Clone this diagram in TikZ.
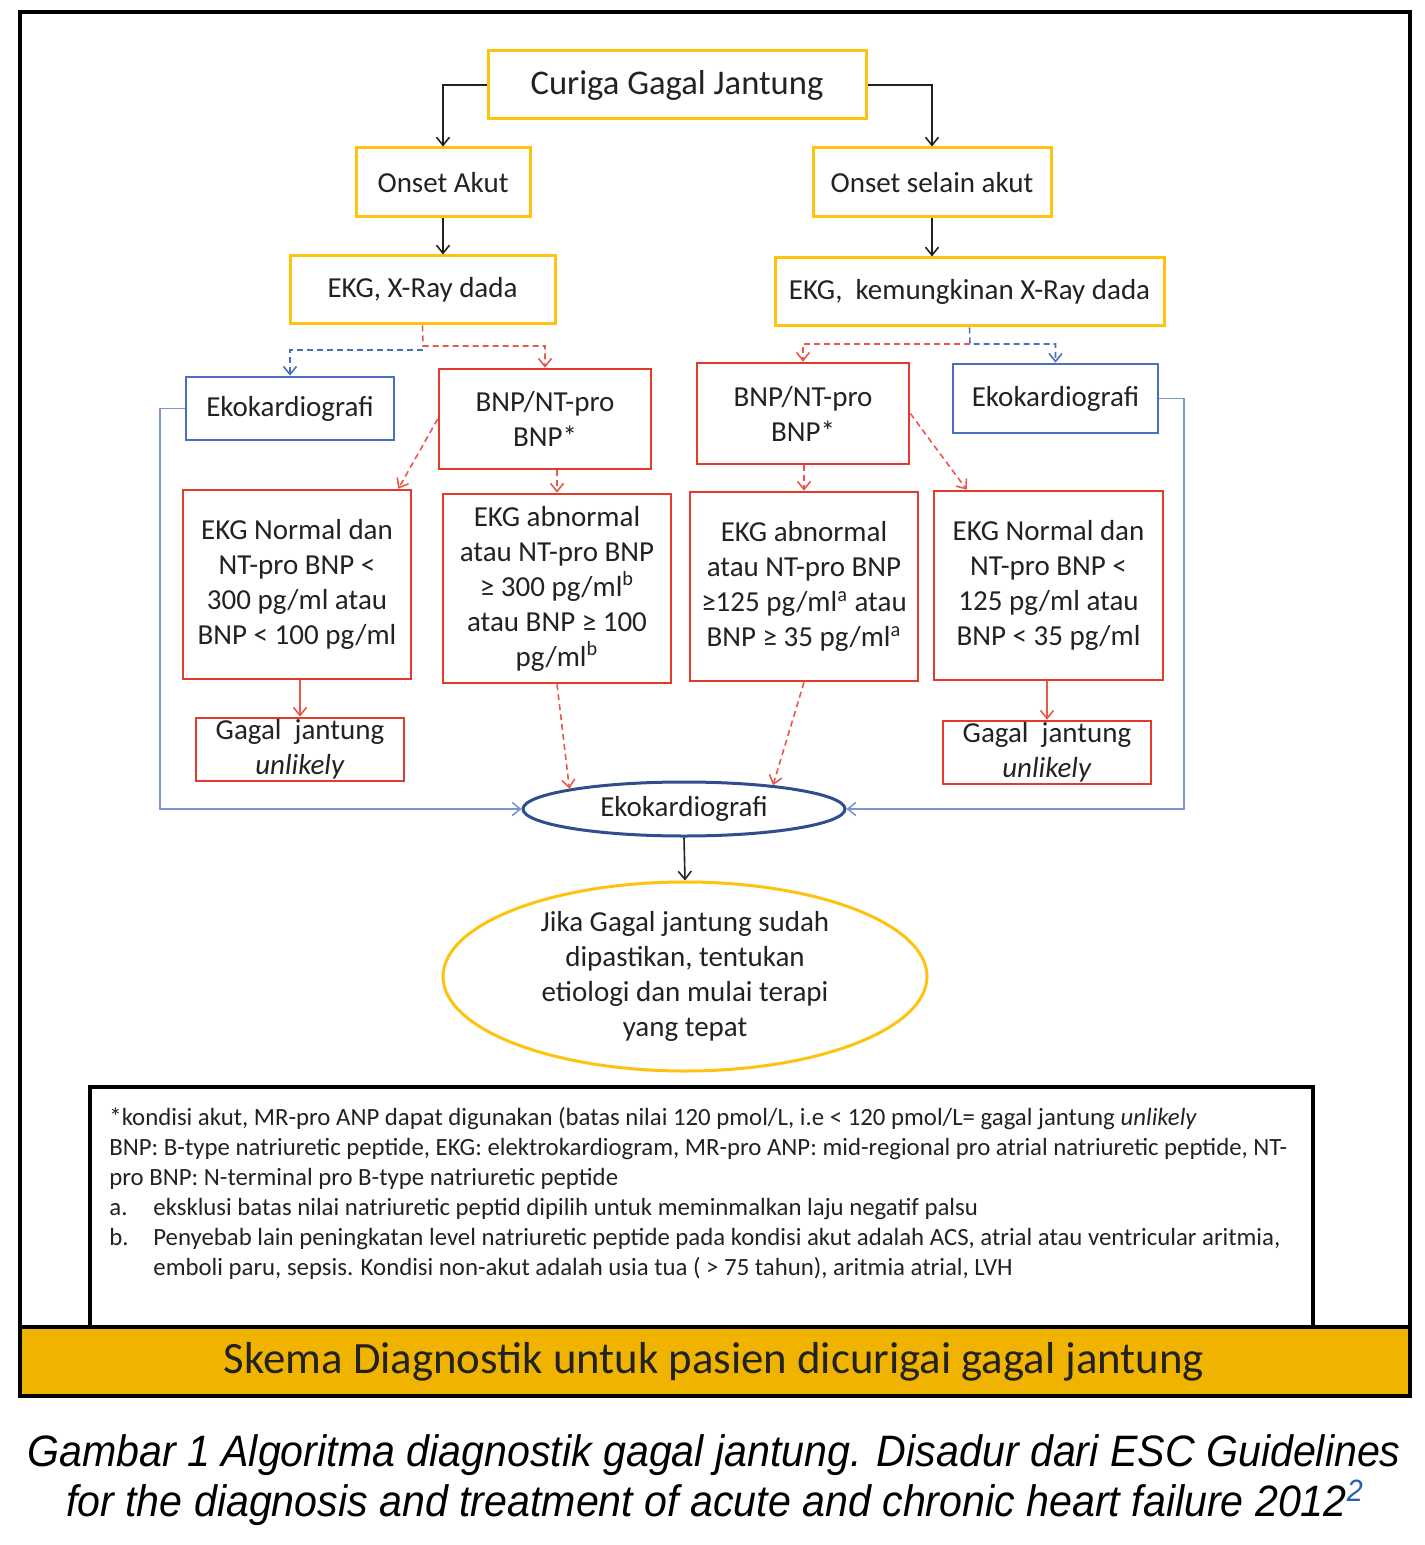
\documentclass[tikz,border=0pt]{standalone}
\usepackage{fontspec}
\setmainfont{Carlito}
\newfontfamily\capfont{Liberation Sans}[FakeStretch=0.935]
\usetikzlibrary{arrows.meta,shapes.geometric,calc}
\definecolor{cyel}{HTML}{FFC20E}
\definecolor{cred}{HTML}{E53A2A}
\definecolor{cblue}{HTML}{4A6FBF}
\definecolor{cdblue}{HTML}{2F4D8F}
\definecolor{clblue}{HTML}{7B96D0}
\definecolor{cbar}{HTML}{F0B400}
\definecolor{ctext}{HTML}{222222}
\definecolor{csup}{HTML}{2A5DB0}
\begin{document}
\begin{tikzpicture}[x=0.5pt,y=-0.5pt,
  every node/.style={text=ctext},
  boxfont/.style={font=\fontsize{14.5}{17.5}\selectfont},
  ybox/.style={draw=cyel,line width=1.5pt,boxfont,align=center,inner sep=1pt},
  rbox/.style={draw=cred,line width=1.3pt,boxfont,align=center,inner sep=1pt},
  bbox/.style={draw=cblue,line width=1.3pt,boxfont,align=center,inner sep=1pt},
  tipopen/.style={-{Straight Barb[length=4pt,width=6.5pt]}},
  conn/.style={draw=ctext,line width=0.8pt,tipopen},
  rdash/.style={draw=cred!85!white,line width=0.8pt,dash pattern=on 3pt off 2pt,tipopen},
  bdash/.style={draw=cblue,line width=0.8pt,dash pattern=on 3pt off 2pt,tipopen},
  rsolid/.style={draw=cred!85!white,line width=0.8pt,tipopen},
  bline/.style={draw=clblue,line width=0.8pt,tipopen},
  fn/.style={anchor=base west,inner sep=0pt,font=\fontsize{12.4}{14}\selectfont}
]
\useasboundingbox (0,0) rectangle (1424,1545);
% frame and bar
\fill[cbar] (20,1327) rectangle (1410,1396);
\draw[line width=2pt,black] (20,12) rectangle (1410,1396);
\draw[line width=2pt,black] (20,1327) -- (1410,1327);
\draw[line width=1.6pt,black] (90,1327) -- (90,1087) -- (1313,1087) -- (1313,1327);

% nodes
\node[ybox,minimum width=189pt,minimum height=34pt,font=\fontsize{17.3}{20}\selectfont] (cur) at (677,85) {Curiga Gagal Jantung};
\node[ybox,minimum width=87pt,minimum height=34.5pt] (oa) at (443,182.5) {Onset Akut};
\node[ybox,minimum width=119pt,minimum height=34.5pt] (os) at (932,182.5) {Onset selain akut};
\node[ybox,minimum width=132.5pt,minimum height=34pt] (ekg1) at (422.5,290) {EKG, X-Ray dada};
\node[ybox,minimum width=194.5pt,minimum height=34pt] (ekg2) at (969.5,292) {EKG,\ \ kemungkinan X-Ray dada};
\node[bbox,minimum width=104pt,minimum height=31.5pt] (eko1) at (290,408.5) {Ekokardiografi};
\node[rbox,minimum width=106pt,minimum height=50pt] (bnp1) at (545,419) {BNP/NT-pro\\BNP*};
\node[rbox,minimum width=106pt,minimum height=50.5pt] (bnp2) at (803,413.5) {BNP/NT-pro\\BNP*};
\node[bbox,minimum width=102.5pt,minimum height=34.5pt] (eko2) at (1055.5,398.5) {Ekokardiografi};
\node[rbox,minimum width=114pt,minimum height=94.5pt] (n1) at (297,584.5) {EKG Normal dan\\NT-pro BNP <\\300 pg/ml atau\\BNP < 100 pg/ml};
\node[rbox,minimum width=114pt,minimum height=94.5pt] (a1) at (557,588.5) {EKG abnormal\\atau NT-pro BNP\\≥ 300 pg/ml\textsuperscript{b}\\atau BNP ≥ 100\\pg/ml\textsuperscript{b}};
\node[rbox,minimum width=114pt,minimum height=94.5pt] (a2) at (804,586.5) {EKG abnormal\\atau NT-pro BNP\\≥125 pg/ml\textsuperscript{a} atau\\BNP ≥ 35 pg/ml\textsuperscript{a}};
\node[rbox,minimum width=114.5pt,minimum height=94.5pt] (n2) at (1048.5,585.5) {EKG Normal dan\\NT-pro BNP <\\125 pg/ml atau\\BNP < 35 pg/ml};
\node[rbox,inner sep=0pt,minimum width=104pt,minimum height=31.5pt] (u1) at (300,749.5) {Gagal\ \ jantung\\\textit{unlikely}};
\node[rbox,inner sep=0pt,minimum width=104pt,minimum height=31.5pt] (u2) at (1047,752.5) {Gagal\ \ jantung\\\textit{unlikely}};
\node[ellipse,draw=cdblue,line width=1.5pt,boxfont,inner sep=0pt,minimum width=161pt,minimum height=27pt] (ell) at (684,809) {Ekokardiografi};
\node[ellipse,draw=cyel,line width=1.5pt,boxfont,align=center,inner sep=0pt,minimum width=242pt,minimum height=94.5pt] (fin) at (685,976.5) {Jika Gagal jantung sudah\\dipastikan, tentukan\\etiologi dan mulai terapi\\yang tepat};

% connectors
\draw[conn] (cur.west) -| (oa.north);
\draw[conn] (cur.east) -| (os.north);
\draw[conn] (oa.south) -- (oa.south |- ekg1.north);
\draw[conn] (os.south) -- (os.south |- ekg2.north);
\coordinate (jl) at (423,346);
\coordinate (jlb) at (423,350);
\draw[rdash] (ekg1.south) -- (jl) -| (bnp1.north);
\draw[bdash] (jlb) -| (eko1.north);
\coordinate (jr) at (970,344);
\draw[bdash] (ekg2.south) -- (jr) -| (eko2.north);
\draw[rdash] (jr) -| (bnp2.north);
\draw[rdash] (bnp1.west) -- ([xshift=-7pt]n1.north east);
\draw[rdash] (a1.north |- bnp1.south) -- (a1.north);
\draw[rdash] (bnp2.east) -- ([xshift=17pt]n2.north west);
\draw[rdash] (a2.north |- bnp2.south) -- (a2.north);
\draw[rsolid] (u1.north |- n1.south) -- (u1.north);
\draw[rsolid] (u2.north |- n2.south) -- (u2.north);
\draw[rdash] (a1.south) -- (ell.170);
\draw[rdash] (a2.south) -- (ell.15);
\coordinate (lb) at (160,600);
\coordinate (rb) at (1184,600);
\draw[bline] (eko1.west) -| (lb) |- (ell.west);
\draw[bline] (eko2.east) -| (rb) |- (ell.east);
\draw[conn] (ell.south) -- (fin.north);

% footnotes
\node[fn] (f1) at (109,1125) {*kondisi akut, MR-pro ANP dapat digunakan (batas nilai 120 pmol/L, i.e < 120 pmol/L= gagal jantung \textit{unlikely}};
\node[fn] (f2) at (109,1155) {BNP: B-type natriuretic peptide, EKG: elektrokardiogram, MR-pro ANP: mid-regional pro atrial natriuretic peptide, NT-};
\node[fn] (f3) at (109,1185) {pro BNP: N-terminal pro B-type natriuretic peptide};
\node[fn] (f4a) at (109,1215) {a.};
\node[fn] (f4) at (153,1215) {eksklusi batas nilai natriuretic peptid dipilih untuk meminmalkan laju negatif palsu};
\node[fn] (f5a) at (109,1245) {b.};
\node[fn] (f5) at (153,1245) {Penyebab lain peningkatan level natriuretic peptide pada kondisi akut adalah ACS, atrial atau ventricular aritmia,};
\node[fn] (f6) at (153,1275) {emboli paru, sepsis. Kondisi non-akut adalah usia tua ( > 75 tahun), aritmia atrial, LVH};

% bar title
\node[font=\fontsize{22.4}{26}\selectfont] (bar) at (714,1362) {Skema Diagnostik untuk pasien dicurigai gagal jantung};

% caption
\node[font=\capfont\itshape\fontsize{22}{26}\selectfont,text=black] (cap1) at (714,1455) {Gambar 1 Algoritma diagnostik gagal jantung. Disadur dari ESC Guidelines};
\node[font=\capfont\itshape\fontsize{22}{26}\selectfont,text=black] (cap2) at (715,1503) {for the diagnosis and treatment of acute and chronic heart failure 2012\textsuperscript{\textcolor{csup}{2}}};
\end{tikzpicture}
\end{document}
